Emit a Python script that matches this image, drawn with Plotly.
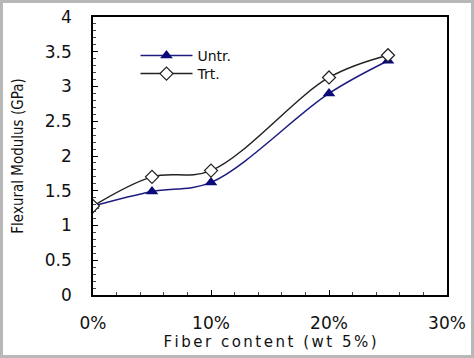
import plotly.graph_objects as go

fiber = [0, 5, 10, 20, 25]
untr = [1.28, 1.49, 1.62, 2.90, 3.37]
trt = [1.28, 1.70, 1.79, 3.13, 3.45]

x_ticks = [0, 10, 20, 30]
x_labels = ["0%", "10%", "20%", "30%"]
y_ticks = [0, 0.5, 1, 1.5, 2, 2.5, 3, 3.5, 4]
y_labels = ["0", "0.5", "1", "1.5", "2", "2.5", "3", "3.5", "4"]

SP = "\u2006"
def spaced(s):
    return SP.join(s)

fig = go.Figure()
fig.add_trace(go.Scatter(
    x=fiber, y=untr, name="Untr.", mode="lines+markers", legend="legend",
    line=dict(color="#1c1c80", width=1.5, shape="spline", smoothing=1.0),
    marker=dict(symbol="triangle-up", size=11, color="#0a0a78"),
))
fig.add_trace(go.Scatter(
    x=fiber, y=trt, name="Trt.", mode="lines+markers", legend="legend2",
    line=dict(color="#222222", width=1.5, shape="spline", smoothing=1.0),
    marker=dict(symbol="diamond", size=10, color="white", line=dict(color="#222222", width=1.2)),
))

L, R, T, B = 93, 27, 17, 63
W, H = 474, 358
pw, ph = W - L - R, H - T - B

FONT = "DejaVu Sans, Liberation Sans, sans-serif"
leg = dict(xanchor="left", yanchor="middle", bgcolor="rgba(0,0,0,0)",
           font=dict(size=14, family=FONT), itemwidth=52, borderwidth=0)

fig.update_layout(
    width=W, height=H,
    margin=dict(l=L, r=R, t=T, b=B),
    paper_bgcolor="white", plot_bgcolor="white",
    font=dict(family=FONT, size=16, color="#111111"),
    showlegend=True,
    legend=dict(leg, x=0.12, y=(295 - 56) / ph),
    legend2=dict(leg, x=0.12, y=(295 - 74) / ph),
    xaxis=dict(range=[0, 30], tickvals=x_ticks, ticktext=x_labels, automargin=False,
               showgrid=False, zeroline=False, showline=True, linecolor="black",
               linewidth=1.5, mirror=True, ticks="inside", ticklen=5,
               tickcolor="black",
               minor=dict(dtick=2, ticks="inside", ticklen=3, tickcolor="#444", showgrid=False),
               ticklabelstandoff=12,
               tickfont=dict(size=17, family=FONT),
               title=dict(text=(SP + " " + SP).join(spaced(w) for w in ["Fiber", "content", "(wt", "5%)"]),
                          standoff=2, font=dict(size=15, family=FONT))),
    yaxis=dict(range=[0, 4], tickvals=y_ticks, ticktext=y_labels, automargin=False,
               showgrid=False, zeroline=False, showline=True, linecolor="black",
               linewidth=1.5, mirror=True, ticks="inside", ticklen=5,
               tickcolor="black",
               minor=dict(dtick=0.1, ticks="inside", ticklen=3, tickcolor="#444", showgrid=False),
               ticklabelstandoff=16,
               tickfont=dict(size=17, family=FONT),
               title=dict(text="Flexural Modulus (GPa)", standoff=18,
                          font=dict(size=15, family="DejaVu Sans Condensed, Liberation Sans Narrow, sans-serif"))),
)

fig.add_shape(type="rect", xref="paper", yref="paper",
              x0=(1.5 - L) / pw, x1=(W - 1.5 - L) / pw,
              y0=-(H - 1.5 - T - ph) / ph, y1=1 + (T - 1.5) / ph,
              line=dict(color="#b8b8b8", width=3), layer="below")

fig.write_html("out.html", config={"displayModeBar": False},
               post_script="document.body.style.margin='0';document.body.style.overflow='hidden';")
